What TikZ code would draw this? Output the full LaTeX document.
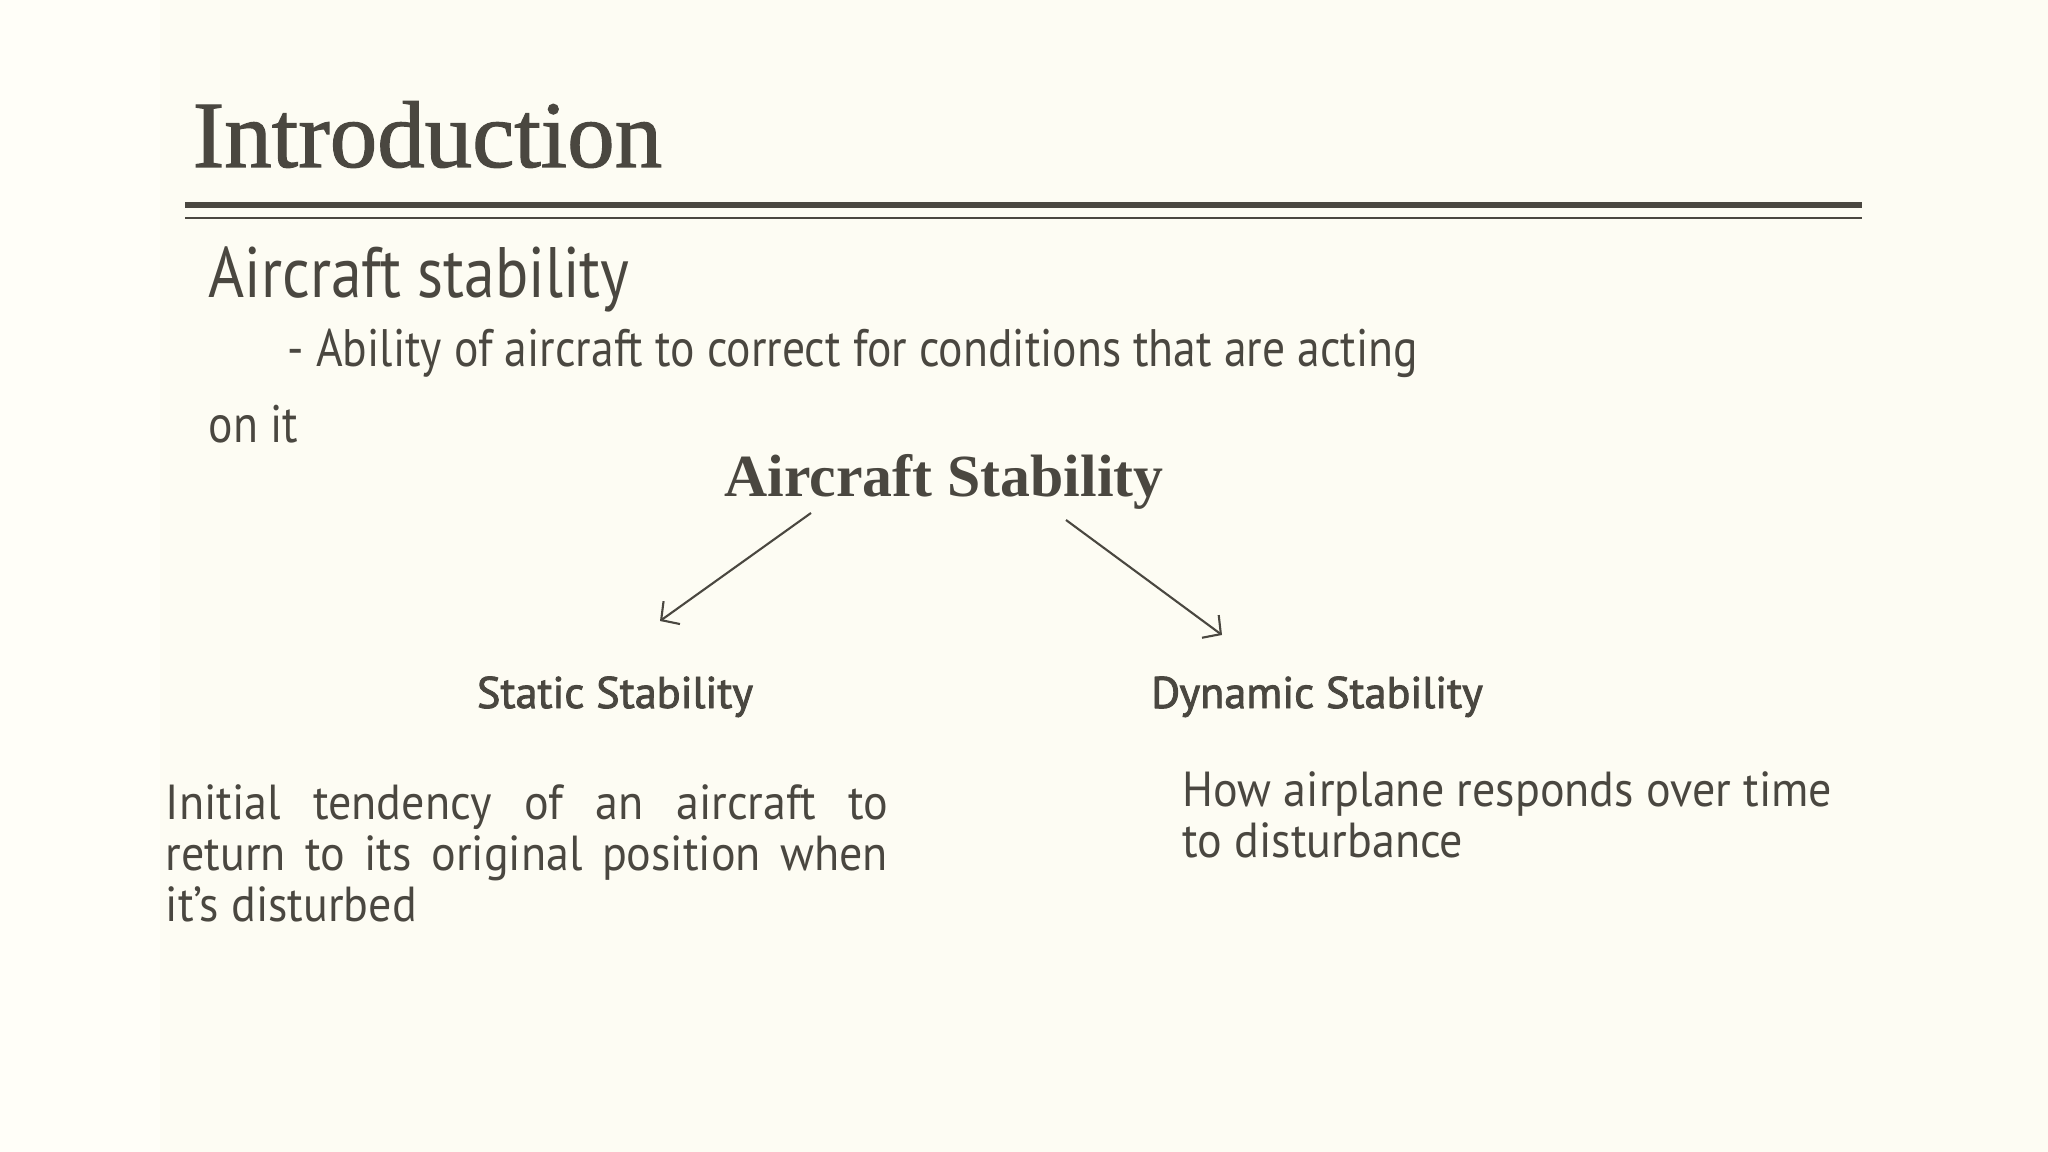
\documentclass[tikz,border=0pt]{standalone}
\usepackage{fontspec}
\setmainfont{Liberation Serif}
\newfontfamily\titlefont{Liberation Serif}[FakeBold=1.2]
\newfontfamily\bodyfont{PT Sans}[FakeStretch=0.865]
\newfontfamily\parafont{PT Sans}[FakeStretch=0.935]
\newfontfamily\headfont{PT Sans}[FakeBold=2]
\usetikzlibrary{arrows.meta}

\definecolor{slideink}{HTML}{4A4740}
\definecolor{slidebg}{HTML}{FDFCF3}
\definecolor{slideedge}{HTML}{FFFEF8}

\tikzset{
  txt/.style={inner sep=0pt, text=slideink},
  subhead/.style={txt, font={\bodyfont\fontsize{20.3}{24}\selectfont}},
  bodytxt/.style={txt, font={\bodyfont\fontsize{15}{18}\selectfont}},
  para/.style={txt, font={\parafont\fontsize{14}{14.5}\selectfont}},
  branch/.style={txt, font={\headfont\fontsize{12.6}{15}\selectfont}},
  splitarrow/.style={draw=slideink, line width=0.6pt, -{Straight Barb[length=3.7pt,width=8pt]}}
}

\begin{document}
\begin{tikzpicture}[x=0.01cm, y=-0.01cm]
  % slide background
  \fill[slidebg] (0,0) rectangle (2048,1152);
  \fill[slideedge] (0,0) rectangle (160,1152);
  \useasboundingbox (0,0) rectangle (2048,1152);

  % title and rules
  \node[txt, anchor=base west, font=\titlefont\fontsize{27}{30}\selectfont] (title) at (192,167) {Introduction};
  \draw[slideink, line width=1.7pt] (185,205) -- (1862,205);
  \draw[slideink, line width=0.6pt] (185,218) -- (1862,218);

  % definition
  \node[subhead, anchor=base west] (topic) at (208,298) {Aircraft stability};
  \node[bodytxt, anchor=base west] (defn) at (287,367) {- Ability of aircraft to correct for conditions that are acting};
  \node[bodytxt, anchor=base west] (defn2) at (208,443) {on it};

  % the split
  \node[txt, anchor=base, font=\bfseries\fontsize{17}{20}\selectfont] (root) at (944,497) {Aircraft Stability};
  \node[branch, anchor=base] (static) at (615,708) {Static Stability};
  \node[branch, anchor=base] (dynamic) at (1317,708) {Dynamic Stability};

  \coordinate (ltail) at (811,513);
  \coordinate (lhead) at (660,621);
  \coordinate (rtail) at (1066,520);
  \coordinate (rhead) at (1222,635);
  \draw[splitarrow] (ltail) -- (lhead);
  \draw[splitarrow] (rtail) -- (rhead);

  % descriptions
  \node[para, anchor=north west, text width=7.22cm, align=justify] (staticdesc) at (165,784)
    {Initial tendency of an aircraft to\linebreak return to its original position when\linebreak it’s disturbed};
  \node[para, anchor=north west, align=left] (dyndesc) at (1182,771)
    {How airplane responds over time\\to disturbance};
\end{tikzpicture}
\end{document}
